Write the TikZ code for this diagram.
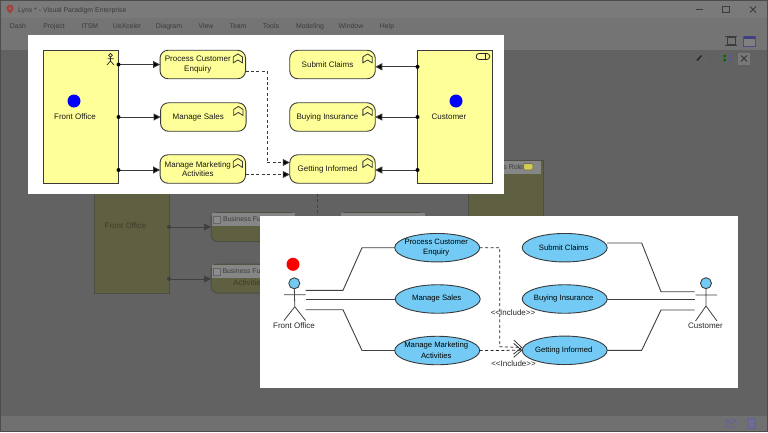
\documentclass[tikz,border=0pt]{standalone}
\usepackage{fontspec}
\setmainfont{Liberation Sans}
\usetikzlibrary{shapes.geometric,arrows.meta,calc}
\definecolor{titlebg}{HTML}{7A7A7A}
\definecolor{menubg}{HTML}{747474}
\definecolor{canvasbg}{HTML}{626262}
\definecolor{statusbg}{HTML}{707070}
\definecolor{frameedge}{HTML}{4C4C4C}
\definecolor{ghostfill}{HTML}{5F5F42}
\definecolor{ghostedge}{HTML}{4E4E42}
\definecolor{ghosthead}{HTML}{868686}
\definecolor{ghosttext}{HTML}{3F3F28}
\definecolor{uitext}{HTML}{3C3C3C}
\definecolor{pinred}{HTML}{A8403F}
\definecolor{archifill}{HTML}{FFFF99}
\definecolor{inkedge}{HTML}{3A3A3A}
\definecolor{ucfill}{HTML}{73CBF5}
\tikzset{
  x=1pt,y=-1pt,
  menutext/.style={text=uitext,font=\fontsize{6.9}{8}\selectfont,inner sep=0,outer sep=0},
  ghostbox/.style={draw=ghostedge,line width=1pt,fill=ghostfill,inner sep=0,outer sep=0},
  ghostlab/.style={inner sep=0,text=ghosttext,font=\fontsize{8}{9.7}\selectfont},
  ghosthdr/.style={fill=ghosthead,inner sep=0,outer sep=0,anchor=north west},
  ghostline/.style={draw=black!75,line width=.8pt},
  element/.style={draw=inkedge,line width=.9pt,fill=archifill,inner sep=0,outer sep=0},
  fntext/.style={align=center,inner sep=0,xshift=-5pt,text=black!90,font=\fontsize{8}{9.7}\selectfont},
  fn/.style={element,rounded corners=8pt,minimum width=85.5pt,minimum height=28.5pt},
  actorbox/.style={element,minimum width=75pt,minimum height=133pt,anchor=north west},
  rel/.style={draw=inkedge,line width=.9pt,-{Triangle[length=7pt,width=7pt,fill=black]}},
  reldash/.style={rel,dash pattern=on 3pt off 2.4pt},
  usecase/.style={ellipse,draw=inkedge,line width=.9pt,fill=ucfill,inner sep=0,outer sep=0,minimum width=85pt,minimum height=28.5pt},
  uclab/.style={align=center,inner sep=0,xshift=-1pt,font=\fontsize{7.7}{10.7}\selectfont},
  uctext/.style={inner sep=0,outer sep=0,font=\fontsize{8}{9.5}\selectfont,text=black!85},
  assoc/.style={draw=black!75,line width=.9pt},
  incl/.style={draw=black!85,line width=.75pt,dash pattern=on 3pt off 2.4pt},
  openend/.style={-{Straight Barb[length=8pt,width=14pt,line width=.7pt]}},
  stick/.style={draw=black!75,line width=.8pt},
  chev/.pic={\draw[inkedge,line width=.8pt,fill=archifill,line join=round]
     (-4.7,-1.5)--(0,-4.5)--(4.7,-1.5)--(4.7,4.5)--(0,1.5)--(-4.7,4.5)--cycle;},
}
\begin{document}
\begin{tikzpicture}
\useasboundingbox (0,0) rectangle (768,432);
% window
\fill[canvasbg] (0,0) rectangle (768,432);
\fill[titlebg] (0,0) rectangle (768,18);
\fill[menubg] (0,18) rectangle (768,50);
\fill[statusbg] (0,416) rectangle (768,431);
\fill[frameedge] (0,0) rectangle (768,1);
\fill[frameedge] (0,431) rectangle (768,432);
\fill[frameedge] (0,1) rectangle (1,431);
\fill[frameedge] (767,1) rectangle (768,431);
% title
\fill[pinred] (10,13.8) -- (6.6,9.5) arc[start angle=160,end angle=380,radius=3.6] -- cycle;
\fill[titlebg] (10,8.3) circle[radius=1.2];
\node[menutext,anchor=base west] (title) at (18,12) {Lynx * - Visual Paradigm Enterprise};
\foreach \nm/\px/\lbl in {mDash/18/Dash,mProject/54/Project,mItsm/90/ITSM,mUex/127/UeXceler,mDiagram/169/Diagram,mView/206/View,mTeam/238/Team,mTools/271/Tools,mModel/310/Modeling,mWindow/351/Window,mHelp/387/Help}
  \node[menutext,anchor=base] (\nm) at (\px,28.5) {\lbl};
% window buttons
\draw[uitext,line width=.9pt] (695.5,9.3)--(702.5,9.3);
\draw[uitext,line width=.9pt] (722.5,6)rectangle(729,12.5);
\draw[uitext,line width=.9pt] (750,6.5)--(756,12.5) (756,6.5)--(750,12.5);
% toolbar icons
\draw[uitext,line width=.8pt] (727,37)rectangle(735,44) (725,36)--(737,36) (725,45)--(737,45);
\draw[draw=black!40!blue!40!gray,fill=gray,line width=.9pt] (743.5,36)rectangle(755,46);
\fill[black!50!blue!50!gray] (743.5,36)rectangle(755,39);
% floating icons
\draw[black!85,line width=1.5pt] (697,60.5)--(701.5,55.5);
\draw[gray!75!black,line width=.8pt] (709,54.5)--(716,54.5) (710,55.5)--(711,62)--(714.5,62)--(715.5,55.5);
\fill[green!40!black] (724.5,56)circle[radius=1.5] (724.5,60)circle[radius=1.5];
\fill[blue!35!gray] (729.5,56)circle[radius=1.5] (729.5,60)circle[radius=1.5];
\fill[gray!95!black] (738,53)rectangle(750,64.5);
\draw[black!80,line width=1pt] (741,55.5)--(747,61.5) (747,55.5)--(741,61.5);
% status icons
\draw[blue!25!gray,line width=.8pt] (726,420)rectangle(736,427) (726,420)--(731,424)--(736,420);
\draw[blue!25!gray,fill=blue!15!gray,line width=.8pt] (747,418)rectangle(755,428);
% ghost diagram behind panels
\node[ghostbox,minimum width=75pt,minimum height=130pt,anchor=north west,label={[ghostlab,xshift=-6pt,yshift=2pt]center:Front Office}] (gfo) at (94,163) {};
\node[ghostbox,rounded corners=7pt,minimum width=85pt,minimum height=29pt,anchor=north west] (gms) at (211,212.5) {};
\node[ghostbox,rounded corners=7pt,minimum width=85pt,minimum height=29pt,anchor=north west] (gma) at (211,264) {};
\node[ghostbox,rounded corners=7pt,minimum width=85pt,minimum height=29pt,anchor=north west] (ggi) at (340,212.5) {};
\node[ghostbox,minimum width=75pt,minimum height=75pt,anchor=north west] (gcu) at (468,160) {};
\node[ghosthdr,minimum width=83pt,minimum height=13pt] (gh1) at (211.5,213) {};
\node[ghosthdr,minimum width=83pt,minimum height=13pt] (gh2) at (211.5,264.5) {};
\node[ghosthdr,minimum width=84pt,minimum height=10pt] (gh3) at (340.5,213) {};
\node[ghosthdr,minimum width=72pt,minimum height=13pt] (gh4) at (468.5,161) {};
\draw[gray!80!black,line width=.7pt,fill=gray!90] (213.5,216) rectangle (220.5,223) (213.5,268) rectangle (220.5,275);
\node[menutext,anchor=west] at (223,219.5) {Business Function};
\node[menutext,anchor=west] at (222.5,271) {Business Function};
\node[menutext,anchor=east] at (523,166.7) {Business Role};
\draw[black!70!yellow!80!gray,fill=yellow!60!gray,rounded corners=1.5pt,line width=.6pt] (523.5,163.5) rectangle (533,170);
\node[ghostlab,anchor=west] at (233,283) {Activities};
\fill[black!75] ($(gfo.north east)+(0,64)$) circle[radius=2];
\fill[black!75] ($(gfo.north east)+(0,116)$) circle[radius=2];
\draw[ghostline,-{Triangle[length=7pt,width=7pt]}] ($(gfo.north east)+(0,64)$) -- (gms.west |- 0,227);
\draw[ghostline,-{Triangle[length=7pt,width=7pt]}] ($(gfo.north east)+(0,116)$) -- (gma.west |- 0,279);
\draw[ghostline,dash pattern=on 3pt off 2.4pt] (317.5,194) -- (317.5,216);
% upper panel
\node[fill=white,inner sep=0,outer sep=0,minimum width=476.5pt,minimum height=159pt,anchor=north west] (panelA) at (27.5,35) {};
\node[actorbox,label={[fntext,xshift=-1pt]center:Front Office}] (fo) at (43.5,50) {};
\node[actorbox,label={[fntext,xshift=-1pt]center:Customer}] (cu) at (417.5,50) {};
\fill[blue] (74,101) circle[radius=6.5];
\fill[blue] (456,101) circle[radius=6.5];
\node[fn,label={[fntext]center:{Process Customer\\Enquiry}}] (pe) at (202.8,64.5) {};
\node[fn,label={[fntext]center:{Manage Sales}}] (ms) at (203.3,117) {};
\node[fn,label={[fntext]center:{Manage Marketing\\Activities}}] (mm) at (202.8,169) {};
\node[fn,label={[fntext]center:{Submit Claims}}] (sc) at (332.5,64.5) {};
\node[fn,label={[fntext]center:{Buying Insurance}}] (bi) at (332.5,117) {};
\node[fn,label={[fntext]center:{Getting Informed}}] (gi) at (332.5,169) {};
\foreach \n in {pe,ms,mm,sc,bi,gi} \path (\n.north east) ++(-7.7,8.2) pic {chev};
% actor glyph
\draw[black!85,line width=.7pt] (110.5,55.3) circle[radius=1.9] (110.5,57.2)--(110.5,61) (107.5,58.7)--(113.5,58.7) (107,65)--(110.5,61)--(114,65);
% role glyph
\draw[black!85,line width=.8pt,rounded corners=2.8pt] (476.2,53.5) rectangle (489.7,59.5);
\draw[black!85,line width=.8pt] (485.5,53.5)--(485.5,59.5);
% upper connectors
\coordinate (fa) at (fo.east |- pe.west);
\coordinate (fb) at (fo.east |- ms.west);
\coordinate (fc) at ($(fo.east |- mm.west)+(0,1)$);
\coordinate (ca) at ($(cu.west |- sc.east)+(0,2.3)$);
\coordinate (cb) at (cu.west |- bi.east);
\coordinate (cc) at ($(cu.west |- gi.east)+(0,1)$);
\draw[rel] (fa) -- (pe.west);
\draw[rel] (fb) -- (ms.west);
\draw[rel] (fc) -- (fc -| mm.west);
\draw[rel] (ca) -- (ca -| sc.east);
\draw[rel] (cb) -- (bi.east);
\draw[rel] (cc) -- (cc -| gi.east);
\foreach \c in {fa,fb,fc,ca,cb,cc} \fill[black] (\c) circle[radius=2];
\draw[reldash] ($(pe.east)+(0,6.5)$) -- (267,71) -- (267,162.5) -- ($(gi.west)+(0,-6.5)$);
\draw[reldash] ($(mm.east)+(0,5.5)$) -- ($(gi.west)+(0,5.5)$);
% lower panel
\node[fill=white,inner sep=0,outer sep=0,minimum width=478pt,minimum height=172pt,anchor=north west] (panelB) at (260,216) {};
\fill[red] (293,264.3) circle[radius=6.5];
\node[usecase,label={[uclab]center:{Process Customer\\Enquiry}}] (up) at (437.2,247.7) {};
\node[usecase,label={[uclab]center:{Manage Sales}}] (us) at (437.7,299) {};
\node[usecase,label={[uclab]center:{Manage Marketing\\Activities}}] (um) at (437.2,350.5) {};
\node[usecase,label={[uclab]center:{Submit Claims}}] (uc) at (564.7,247.7) {};
\node[usecase,label={[uclab]center:{Buying Insurance}}] (ub) at (564.7,299) {};
\node[usecase,label={[uclab]center:{Getting Informed}}] (ug) at (564.7,350.3) {};
% actors
\node[draw=black!75,line width=.9pt,fill=ucfill,circle,minimum size=11pt,inner sep=0,outer sep=0] (h1) at (294.3,283.3) {};
\draw[stick] (h1.south) -- (294.8,306.7) -- (284,320.5) (294.8,306.7) -- (305.5,320.5) (284,294.8) -- (305.5,294.8);
\node[uctext] (a1) at (294,326) {Front Office};
\node[draw=black!75,line width=.9pt,fill=ucfill,circle,minimum size=11pt,inner sep=0,outer sep=0] (h2) at (706,283.2) {};
\draw[stick] (h2.south) -- (706,306) -- (695.5,321) (706,306) -- (717,321) (695.5,295) -- (717,295);
\node[uctext] (a2) at (705.5,326) {Customer};
\coordinate (l1) at (305.5,290.3);
\coordinate (l2) at (305.5,299);
\coordinate (l3) at (305.5,309.7);
\coordinate (r1) at (694.5,291.7);
\coordinate (r2) at (694.5,299);
\coordinate (r3) at (694.5,310);
\draw[assoc] (l1) -- (343,290.3) -- (362,247.7) -- (up.west);
\draw[assoc] (l2) -- (us.west);
\draw[assoc] (l3) -- (343,309.7) -- (362,350.5) -- (um.west);
\draw[assoc] (r1) -- (661,291.7) -- (641.7,243) -- (607,243);
\draw[assoc] (r2) -- (ub.east);
\draw[assoc] (r3) -- (661,310) -- (641.7,350.3) -- (ug.east);
\draw[incl,openend] (up.east) -- (499.8,247.7) -- (499.8,346.7) -- (ug.west |- 0,347.5);
\draw[incl,openend] (um.east) -- (ug.west);
\node[uctext] (i1) at (513,312.5) {<{}<Include>{}>};
\node[uctext] (i2) at (513.5,364) {<{}<Include>{}>};
\end{tikzpicture}
\end{document}
